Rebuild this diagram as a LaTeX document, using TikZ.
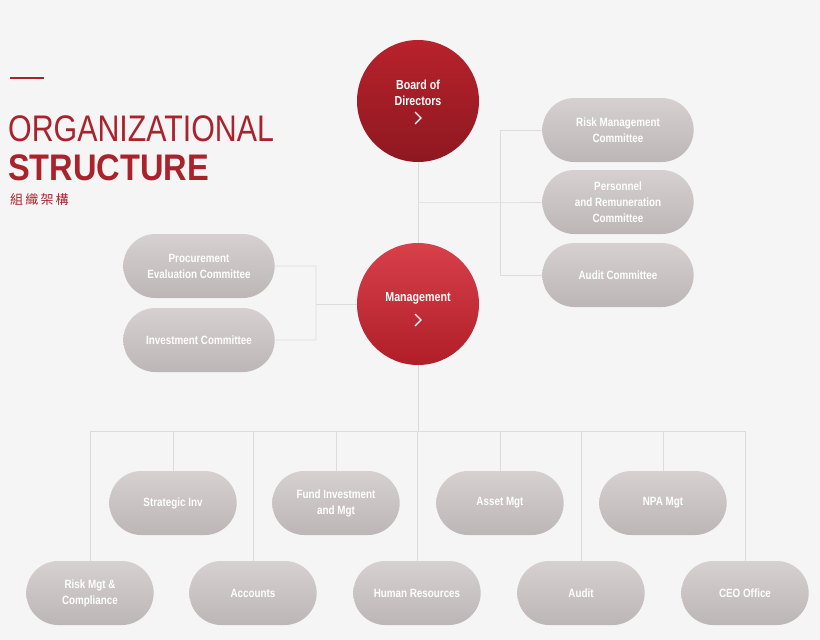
\documentclass[tikz,border=0pt]{standalone}
\usepackage{fontspec}
\setmainfont{Liberation Sans}[FakeStretch=0.82]
\newfontfamily\cjk{Noto Sans CJK TC}
\usetikzlibrary{shapes.misc}
\definecolor{bg}{HTML}{F5F5F5}
\definecolor{ttl}{HTML}{A8232C}
\definecolor{ln}{HTML}{DCDCDC}
\definecolor{pt}{HTML}{D6D0D0}
\definecolor{pb}{HTML}{BDB6B6}
\definecolor{bt}{HTML}{B8222C}
\definecolor{bb}{HTML}{8E1820}
\definecolor{mt}{HTML}{D8404A}
\definecolor{mb}{HTML}{B01E28}
\tikzset{
 pill/.style={rounded rectangle, minimum height=64pt, top color=pt, bottom color=pb, draw=none,
   text=white, font=\bfseries\fontsize{12}{16}\selectfont, align=center},
 wide/.style={pill, minimum width=158pt},
 narrow/.style={pill, minimum width=134pt},
 circ/.style={circle, minimum size=122pt, text=white, font=\bfseries\fontsize{13}{16}\selectfont, align=center},
 conn/.style={draw=ln, line width=0.8pt},
 chevron/.style={draw=white, line width=1.3pt}
}
\begin{document}
\begin{tikzpicture}[x=1pt,y=-1pt]
\fill[bg] (0,0) rectangle (820,640);
\useasboundingbox (0,0) rectangle (820,640);
\draw[ttl, line width=2.5pt] (10,78) -- (44,78);
\node[anchor=west, text=ttl, inner sep=0, font=\fontsize{37}{40}\selectfont\addfontfeature{FakeStretch=0.82}] (t1) at (8,129) {ORGANIZATIONAL};
\node[anchor=west, text=ttl, inner sep=0, font=\bfseries\fontsize{37}{40}\selectfont\addfontfeature{FakeStretch=0.88}] (t2) at (8,168) {STRUCTURE};
\node[anchor=west, text=ttl, inner sep=0, font=\cjk\fontsize{13}{14}\selectfont] (t3) at (10,200) {組\,織\,架\,構};
\coordinate (bh) at (418,202);
\coordinate (rv1) at (500,130); \coordinate (rv2) at (500,202); \coordinate (rv3) at (500,275);
\coordinate (lv1) at (316,266); \coordinate (lv2) at (316,340); \coordinate (lm) at (316,304);
\coordinate (hb) at (418,431);
\node[circ, top color=bt, bottom color=bb] (board) at (418,101) {};
\node[text=white, font=\bfseries\fontsize{13}{16}\selectfont, align=center] (bt) at (418,93) {Board of\\Directors};
\draw[chevron] (415,112) -- (421,118) -- (415,124);
\node[circ, top color=mt, bottom color=mb] (mgmt) at (418,304) {};
\node[text=white, font=\bfseries\fontsize{13}{16}\selectfont] (mtx) at (418,298) {Management};
\draw[chevron] (415,314) -- (421,320) -- (415,326);
\node[wide] (risk) at (618,130) {Risk Management\\Committee};
\node[wide] (pers) at (618,202) {Personnel\\and Remuneration\\Committee};
\node[wide] (aud) at (618,275) {Audit Committee};
\node[wide] (proc) at (199,266) {Procurement\\Evaluation Committee};
\node[wide] (inv) at (199,340) {Investment Committee};
\node[narrow] (si) at (173,503) {Strategic Inv};
\node[narrow] (fi) at (336,503) {Fund Investment\\and Mgt};
\node[narrow] (am) at (500,503) {Asset Mgt};
\node[narrow] (npa) at (663,503) {NPA Mgt};
\node[narrow] (rm) at (90,593) {Risk Mgt \&\\Compliance};
\node[narrow] (acc) at (253,593) {Accounts};
\node[narrow] (hr) at (417,593) {Human Resources};
\node[narrow] (au) at (581,593) {Audit};
\node[narrow] (ceo) at (745,593) {CEO Office};
\draw[conn] (board) -- (mgmt);
\draw[conn] (bh) -- (rv2) -- (pers);
\draw[conn] (rv1) -- (rv3);
\draw[conn] (rv1) -- (risk); \draw[conn] (rv3) -- (aud);
\draw[conn] (proc) -- (lv1) -- (lv2) -- (inv);
\draw[conn] (lm) -- (mgmt);
\draw[conn] (mgmt) -- (hb);
\draw[conn] (rm.north |- hb) -- (ceo.north |- hb);
\foreach \n in {si,fi,am,npa,rm,acc,hr,au,ceo}{\draw[conn] (\n.north |- hb) -- (\n.north);}
\end{tikzpicture}
\end{document}
